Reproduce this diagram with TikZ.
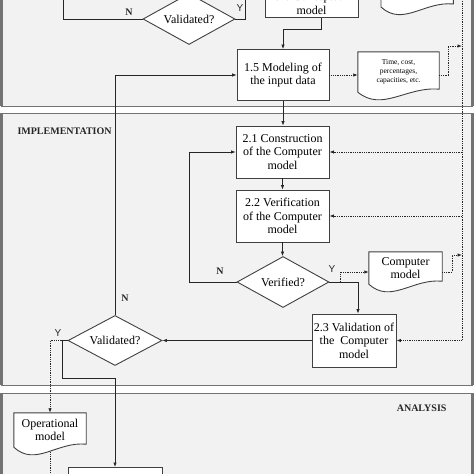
\documentclass[tikz,border=0pt]{standalone}
\usepackage{fontspec}
\setmainfont{Liberation Serif}
\newfontfamily\sansf{Liberation Sans}
\usetikzlibrary{arrows.meta,shapes.geometric,calc}
\pgfdeclarelayer{back}
\pgfdeclarelayer{mid}
\pgfsetlayers{back,mid,main}
\newcommand\docshape[1]{%
\begin{pgfonlayer}{mid}
\draw[docline] (#1.north west) -- (#1.north east) -- ($(#1.south east)+(0,-3)$)
 .. controls ($(#1.south west)!0.6!(#1.south east)+(0,-6)$) and ($(#1.south west)!0.3!(#1.south east)+(0,20)$) .. (#1.south west) -- cycle;
\end{pgfonlayer}}
\begin{document}
\begin{tikzpicture}[x=1pt,y=-1pt,
  pbox/.style={draw=black!75, line width=0.9pt, fill=white, align=center,
    font=\fontsize{12}{13.5}\selectfont, inner sep=0pt, minimum width=93pt, minimum height=52pt},
  dia/.style={diamond, draw=black!75, line width=0.9pt, fill=white,
    font=\fontsize{12}{13.5}\selectfont, inner sep=0pt, aspect=1.8, minimum width=92pt, minimum height=51pt},
  docn/.style={align=center, inner sep=0pt, font=\fontsize{12}{12.5}\selectfont},
  docline/.style={draw=black!75, line width=0.9pt, fill=white},
  arr/.style={-{Latex[length=4.5pt,width=3.5pt]}},
  ln/.style={line width=0.7pt, draw=black!85},
  dotln/.style={densely dotted, line width=0.8pt, draw=black!85},
  lab/.style={font=\bfseries\fontsize{10}{11}\selectfont, text=black!85},
  ylab/.style={font=\sansf\fontsize{10}{11}\selectfont, text=black!85},
  sec/.style={font=\bfseries\fontsize{10}{11}\selectfont, text=black!85},
  panel/.style={fill=black!5, draw=black!55, line width=1pt},
]
\useasboundingbox (0,0) rectangle (474,474);
\clip (0,0) rectangle (474,474);

% panels
\begin{pgfonlayer}{back}
\fill[white] (0,0) rectangle (474,474);
\draw[panel] (1.5,-20) rectangle (472,106);
\draw[panel] (1.5,113) rectangle (472,385);
\draw[panel] (1.5,393) rectangle (472,500);
\foreach \ya/\yb in {-20/106,113/385,393/500}{
  \fill[black!55] (0,\ya) rectangle (2.5,\yb);
  \fill[black!55] (471,\ya) rectangle (474,\yb);
}
\end{pgfonlayer}

% section labels
\node[sec, anchor=west] (impl) at (14,131) {IMPLEMENTATION};
\node[sec, anchor=east] (anal) at (450,408) {ANALYSIS};

% top part
\node[pbox, anchor=south, minimum height=0pt, inner ysep=3pt] (concept) at (311.5,18) {\strut\\the Conceptual\\model};
\node[docn, minimum width=72pt, minimum height=50pt, anchor=south west] (tdoc) at (381,7) {};
\docshape{tdoc}
\node[dia] (val1) at (189,19) {Validated?};
\coordinate (tl) at (63,-10);
\coordinate (tr) at (245,-10);
\draw[ln] (val1.west) -| (tl);
\draw[ln] (val1.east) -| (tr);
\node[lab] (n1) at (129,12) {N};
\node[ylab] (y1) at (240,8) {Y};

\node[pbox, minimum width=92pt, minimum height=51pt] (m15) at (283,75) {1.5 Modeling of\\the input data};
\node[docn, minimum width=81pt, minimum height=40pt, font=\fontsize{7.5}{8.7}\selectfont] (tdata) at (398.5,72) {Time, cost,\\percentages,\\capacities, etc.};
\docshape{tdata}

% implementation
\node[pbox] (c21) at (282.5,152) {2.1 Construction\\of the Computer\\model};
\node[pbox] (v22) at (282.5,216) {2.2 Verification\\of the Computer\\model};
\node[dia] (ver) at (283,282) {Verified?};
\node[pbox, minimum width=84pt, minimum height=53pt] (val23) at (354,340.5) {2.3 Validation of\\the~~Computer\\model};
\node[docn, minimum width=73pt, minimum height=32pt] (cm) at (405.5,268) {Computer\\model};
\docshape{cm}
\node[dia, minimum width=94pt, minimum height=50pt] (val2) at (115,340.5) {Validated?};

% analysis
\node[docn, minimum width=72pt, minimum height=34pt] (op) at (50,430) {Operational\\model};
\docshape{op}
\node[pbox, anchor=north, minimum width=94pt, minimum height=50pt] (anbox) at (115,467) {};

% bus
\coordinate (bustop) at (462,-10);
\coordinate (busa) at (462,46);
\coordinate (busb) at (462,255);
\draw[dotln,arr] (bustop) |- (val23.east);

% connectors
\draw[ln,arr] ([xshift=10pt]concept.south) -- ++(0,11) -| (m15.north);
\draw[dotln,arr] (m15.east) -- (m15.east -| tdata.west);
\draw[dotln,arr] (tdata.east |- m15.east) -- ++(9,0) |- (busa);
\draw[ln,arr] (m15.south) -- (m15.south |- c21.north);
\draw[dotln,arr] (c21.east -| bustop) -- (c21.east);
\draw[dotln,arr] (v22.east -| bustop) -- (v22.east);
\draw[ln,arr] (c21.south) -- (c21.south |- v22.north);
\draw[ln,arr] (v22.south) -- (v22.south |- ver.north);
\draw[ln,arr] (ver.west) -- ++(-47,0) |- (c21.west);
\node[lab] (n2) at (220,271) {N};
\coordinate (vb) at ($(ver.east)+(11,0)$);
\draw[ln,arr] (ver.east) -| ([xshift=4pt]val23.north);
\draw[dotln,arr] (vb) |- ([yshift=-4pt]cm.west);
\draw[dotln,arr] ([yshift=-4pt]cm.east) -- ++(10,0) |- (busb);
\node[ylab] (y2) at (332,269) {Y};
\draw[ln,arr] (val23.west) -- (val2.east);
\draw[ln,arr] (val2.north) |- (m15.west);
\node[lab] (n3) at (125,298) {N};
\node[ylab] (y3) at (58,333) {Y};
\draw[dotln,arr] (val2.west) -| (op.north);
\draw[ln,arr] (val2.west) -- ++(-5,0) -- ++(0,38) -| (anbox.north);
\coordinate (opb) at (50,480);
\draw[dotln] ($(op.south)+(0,5)$) -- (opb);
\end{tikzpicture}
\end{document}
